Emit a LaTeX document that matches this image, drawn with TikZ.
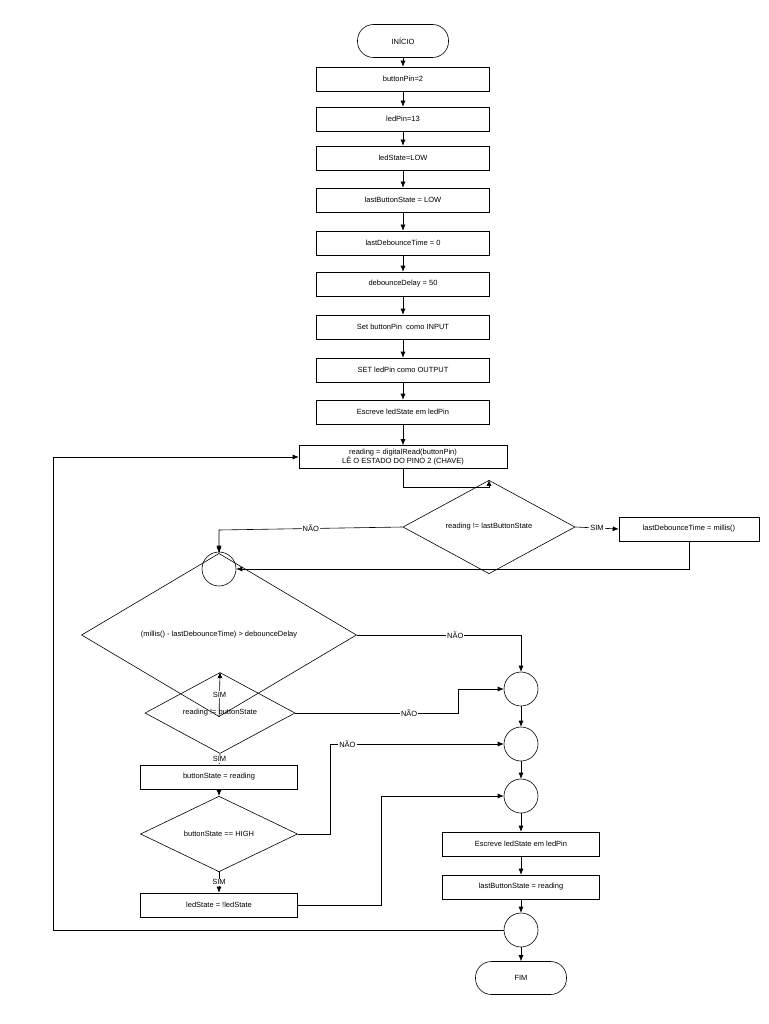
\documentclass[tikz,border=0pt]{standalone}
\usepackage{fontspec}
\setmainfont{Liberation Sans}
\usetikzlibrary{shapes.geometric,arrows.meta}
\begin{document}
\begin{tikzpicture}[x=1pt,y=-1pt,
  every node/.style={font=\fontsize{7.5}{8.5}\selectfont},
  box/.style={draw,rectangle,inner sep=0,minimum width=173,minimum height=24,align=center},
  sbox/.style={draw,rectangle,inner sep=0,minimum width=157,minimum height=24},
  dia/.style={draw,diamond,inner sep=0},
  circ/.style={draw,circle,minimum size=34,inner sep=0},
  term/.style={draw,rounded corners=16,minimum width=91,minimum height=33,inner sep=0},
  lab/.style={fill=white,inner sep=1},
  arr/.style={-{Latex[length=6,width=5]}},
  line width=0.6]
\useasboundingbox (0,0) rectangle (768,1024);
\node[term] (ini) at (403,41) {INÍCIO};
\node[box] (b1) at (403,79) {buttonPin=2};
\node[box] (b2) at (403,119) {ledPin=13};
\node[box] (b3) at (403,158) {ledState=LOW};
\node[box] (b4) at (403,200) {lastButtonState = LOW};
\node[box] (b5) at (403,243) {lastDebounceTime = 0};
\node[box] (b6) at (403,284) {debounceDelay = 50};
\node[box] (b7) at (403,327) {Set buttonPin\ \ como INPUT};
\node[box] (b8) at (403,370) {SET ledPin como OUTPUT};
\node[box] (b9) at (403,412) {Escreve ledState em ledPin};
\node[box,minimum width=208,minimum height=23] (rd) at (403,457) {reading = digitalRead(buttonPin)\\LÊ O ESTADO DO PINO 2 (CHAVE)};
\node[dia,minimum width=172,minimum height=39] (d1) at (489,527) {reading != lastButtonState};
\node[draw,inner sep=0,minimum width=140,minimum height=24] (ld) at (689,529) {lastDebounceTime = millis()};
\node[circ] (c0) at (219,569) {};
\node[dia,minimum width=275,minimum height=53] (d2) at (219,635) {(millis() - lastDebounceTime) > debounceDelay};
\node[dia,minimum width=150,minimum height=42] (d3) at (220,713) {reading != buttonState};
\node[sbox] (bs) at (219,777) {buttonState = reading};
\node[dia,minimum width=157,minimum height=41] (d4) at (219,834) {buttonState == HIGH};
\node[sbox] (ls) at (219,905) {ledState = !ledState};
\node[circ] (c1) at (521,689) {};
\node[circ] (c2) at (521,744) {};
\node[circ] (c3) at (521,796) {};
\node[sbox] (e1) at (521,844) {Escreve ledState em ledPin};
\node[sbox] (e2) at (521,887) {lastButtonState = reading};
\node[circ] (c4) at (521,930) {};
\node[term] (fim) at (521,978) {FIM};
\foreach \a/\b in {ini/b1,b1/b2,b2/b3,b3/b4,b4/b5,b5/b6,b6/b7,b7/b8,b8/b9,b9/rd,c0/d2,c1/c2,c2/c3,c3/e1,e1/e2,e2/c4,c4/fim,bs/d4}
  \draw[arr] (\a) -- (\b);
\draw[arr] (rd.south) -- (403,487) -- (489,487) -- (d1.north);
\draw[arr] (d1.west) -- node[lab,pos=0.5]{NÃO} (219,530) -- (c0.north);
\draw[arr] (d1.east) -- node[lab]{SIM} (ld.west);
\draw[arr] (ld.south) |- (c0.east);
\draw[arr] (d2.east) -- node[lab,pos=0.6]{NÃO} (521,635) -- (c1.north);
\draw[arr] (d2.south) -- node[lab]{SIM} (d3.north);
\draw[arr] (d3.east) -- node[lab,pos=0.7]{NÃO} (458,713) |- (c1.west);
\draw[arr] (d3.south) -- node[lab]{SIM} (bs.north);
\draw[arr] (d4.east) -- (330,834) |- node[lab,pos=0.55]{NÃO} (c2.west);
\draw[arr] (d4.south) -- node[lab]{SIM} (ls.north);
\draw[arr] (ls.east) -- (381,905) |- (c3.west);
\draw[arr] (c4.west) -- (53,930) |- (rd.west);
\end{tikzpicture}
\end{document}
